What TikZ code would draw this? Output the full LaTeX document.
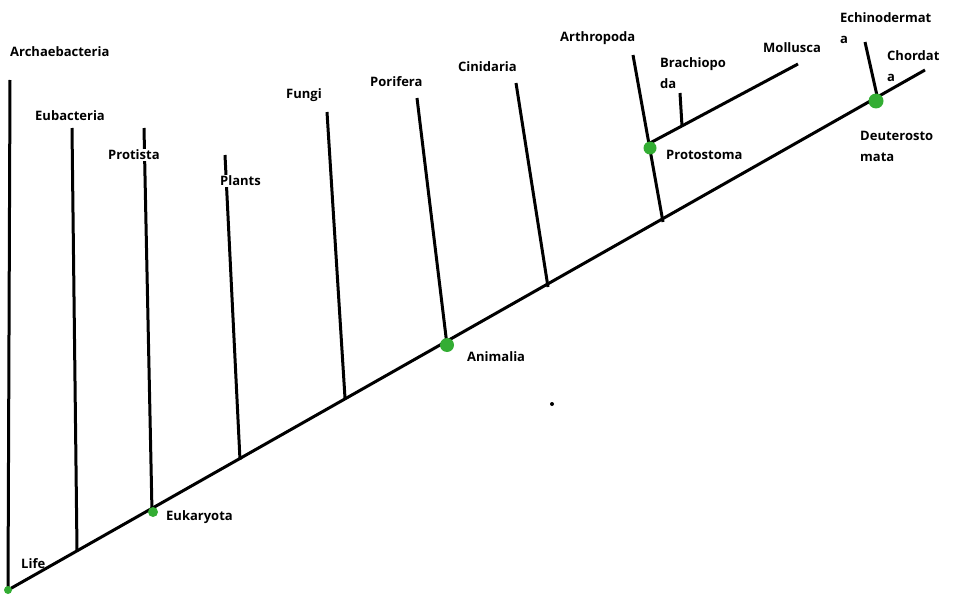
\documentclass[tikz,border=0pt]{standalone}
\usepackage{fontspec}
\setmainfont{Open Sans}
\begin{document}
\begin{tikzpicture}[x=1pt,y=-1pt,
 br/.style={line width=3pt},
 lab/.style={font=\bfseries\fontsize{13}{21}\selectfont,anchor=west,inner sep=1pt,fill=white,align=left},
 blob/.style={circle,fill=green!60!black!80,minimum size=12pt,inner sep=0pt}]
\useasboundingbox (0,0) rectangle (978,602);
\coordinate (life) at (8,590);
\coordinate (top) at (925,70);
\draw[br] (life) -- (top);
\draw[br] (life) -- (10,80);
\draw[br] (77,550) -- (72,128);
\draw[br] (152,512) -- (144,128);
\draw[br] (240,460) -- (225,155);
\draw[br] (345,398) -- (327,112);
\draw[br] (447,345) -- (417,98);
\draw[br] (548,287) -- (516,83);
\draw[br] (663,222) -- (633,55);
\draw[br] (650,143) -- (798,64);
\draw[br] (682,126) -- (680,93);
\draw[br] (878,100) -- (865,42);
\node[blob,minimum size=8pt] (n0) at (life) {};
\node[blob,minimum size=10pt] (n1) at (153,512) {};
\node[blob,minimum size=14pt] (n2) at (447,345) {};
\node[blob,minimum size=13pt] (n3) at (650,148) {};
\node[blob,minimum size=15pt] (n4) at (876,101) {};
\fill (552,404) circle (2pt);
\node[lab] (a) at (9,52) {Archaebacteria};
\node[lab] (b) at (34,116) {Eubacteria};
\node[lab] (c) at (107,155) {Protista};
\node[lab] (d) at (219,181) {Plants};
\node[lab] (e) at (285,95) {Fungi};
\node[lab] (f) at (369,82) {Porifera};
\node[lab] (g) at (457,67) {Cinidaria};
\node[lab] (h) at (559,38) {Arthropoda};
\node[lab] (i) at (659,73) {Brachiopo\\da};
\node[lab] (j) at (762,48) {Mollusca};
\node[lab,fill=none] (k) at (839,28) {Echinodermat\\a};
\node[lab,fill=none] (l) at (886,66) {Chordat\\a};
\node[lab] (m) at (859,146) {Deuterosto\\mata};
\node[lab,fill=none] (o) at (665,155) {Protostoma};
\node[lab] (p) at (466,357) {Animalia};
\node[lab] (q) at (165,517) {Eukaryota};
\node[lab,fill=none] (r) at (20,564) {Life};
\end{tikzpicture}
\end{document}
